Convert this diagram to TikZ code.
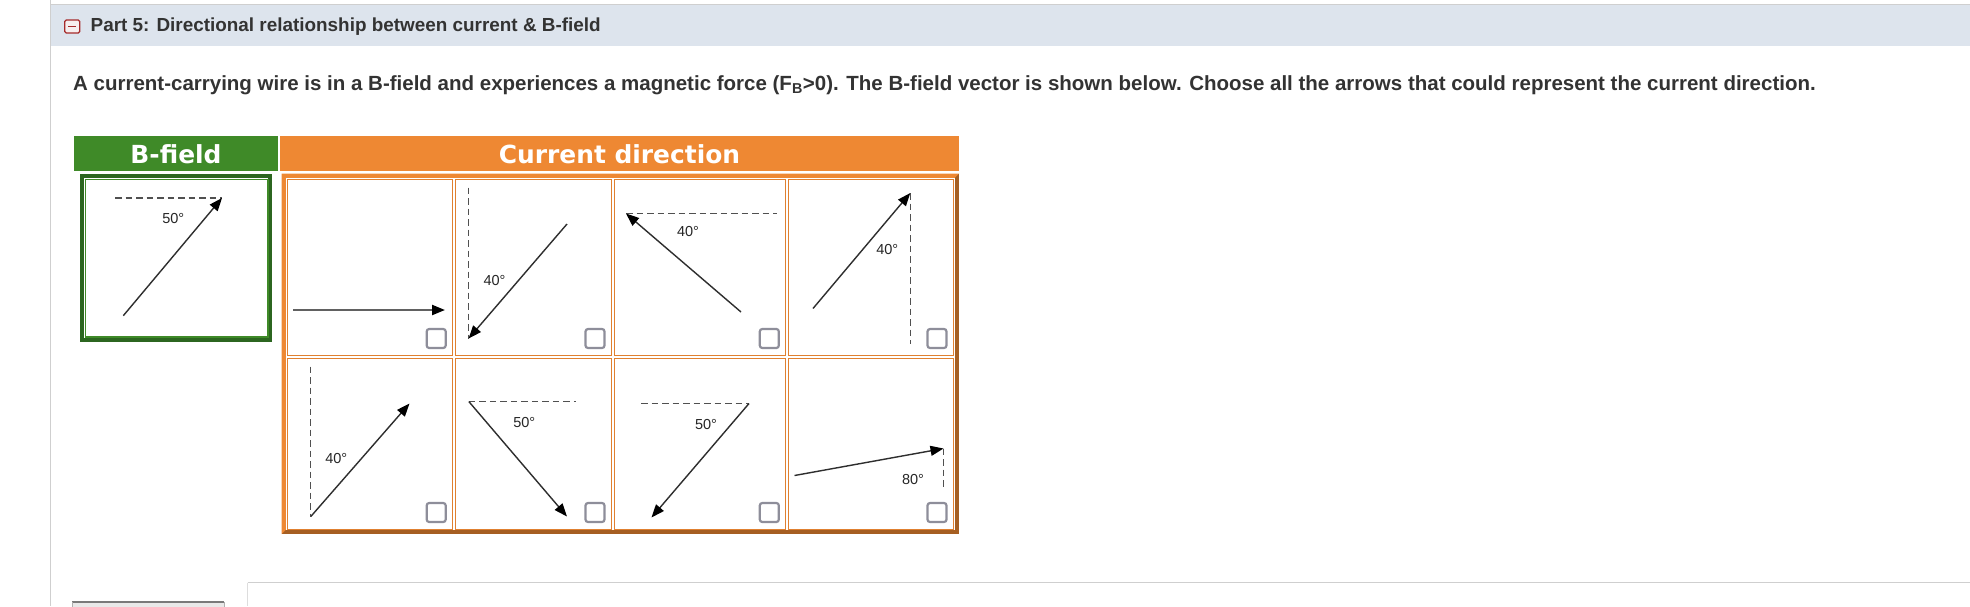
\documentclass[tikz,border=0pt]{standalone}
\usepackage{fontspec}
\setmainfont{Liberation Sans}
\newfontfamily\hdrfont{DejaVu Sans}
\usetikzlibrary{arrows.meta}
\definecolor{hdrband}{HTML}{DDE4ED}
\definecolor{frameln}{HTML}{CFCFCF}
\definecolor{txt}{HTML}{333333}
\definecolor{grn}{HTML}{3F8A28}
\definecolor{dgrn}{HTML}{2C6620}
\definecolor{org}{HTML}{EE8833}
\definecolor{brn}{HTML}{A65F22}
\definecolor{cellb}{HTML}{E08030}
\definecolor{chkc}{HTML}{8E8E9A}
\definecolor{iconred}{HTML}{A52A2A}
\definecolor{iconfill}{HTML}{F6EEEE}
\definecolor{arr}{HTML}{2E2E2E}
\definecolor{dash}{HTML}{505050}
\definecolor{btnfill}{HTML}{E9E9E9}
\definecolor{btnline}{HTML}{7A7A7A}
\tikzset{
  vec/.style={draw=arr, line width=1.4pt, -{Triangle[length=13pt,width=10pt,color=black]}},
  vecbold/.style={draw=black!62, line width=2.2pt, -{Triangle[length=13pt,width=10pt,color=black]}},
  dashln/.style={draw=dash, line width=1.3pt, dash pattern=on 6.5pt off 4pt},
  anglbl/.style={font=\fontsize{14.5}{16}\selectfont, text=black!85, inner sep=0},
  chkbox/.style={draw=chkc, fill=white, line width=2.2pt, rounded corners=2.5pt, minimum size=19pt, inner sep=0},
  cellbox/.style={draw=cellb, line width=1pt},
  hdrtext/.style={font=\hdrfont\bfseries\fontsize{24.9}{28}\selectfont, text=white, inner sep=0, anchor=base}
}
\begin{document}
\begin{tikzpicture}[x=1pt,y=-1pt]
\useasboundingbox (0,0) rectangle (1970,606);
\fill[white] (0,0) rectangle (1970,606);
% page frame
\fill[hdrband] (50.5,4.5) rectangle (1970,45.7);
\draw[frameln, line width=1pt] (50,0) -- (50,606);
\draw[frameln, line width=1pt] (50,4.5) -- (1970,4.5);
% header icon and title
\node[draw=iconred, fill=iconfill, line width=1.2pt, rounded corners=1.5pt, minimum width=15pt, minimum height=13pt, inner sep=0] (ic) at (72.3,26.5) {};
\draw[iconred, line width=1.3pt] ([xshift=-4pt]ic.center) -- ([xshift=4pt]ic.center);
\node[anchor=base west, inner sep=0, text=txt, font=\bfseries\fontsize{18.9}{22}\selectfont] (title) at (90.5,31.5) {Part 5: Directional relationship between current \& B-field};
% question
\node[anchor=base west, inner sep=0, text=txt, font=\bfseries\fontsize{20.5}{24}\selectfont] (quest) at (73,90) {A current-carrying wire is in a B-field and experiences a magnetic force (F\textsubscript{B}>0). The B-field vector is shown below. Choose all the arrows that could represent the current direction.};
% table headers
\fill[grn] (74,136) rectangle (278.3,170.7);
\fill[org] (280,136) rectangle (959,170.7);
\node[hdrtext] (hb) at (176,163.3) {B-field};
\node[hdrtext] (hc) at (619.5,163.3) {Current direction};
% B-field box
\draw[dgrn, line width=4pt] (82,176.3) rectangle (269.7,339.7);
\draw[grn, line width=1.2pt] (85.6,179.6) rectangle (268,337);
% table outer border
\fill[brn] (281.5,173.5) rectangle (959,534);
\fill[org] (281.5,173.5) -- (959,173.5) -- (954.5,178) -- (286,178) -- (286,529.5) -- (281.5,534) -- cycle;
\fill[white] (286,178) rectangle (954.5,529.5);
% cells
\draw[cellbox] (287.5,179.5) rectangle (452.5,355);
\draw[cellbox] (455,179.5) rectangle (611.5,355);
\draw[cellbox] (614.5,179.5) rectangle (785.5,355);
\draw[cellbox] (788,179.5) rectangle (953.5,355);
\draw[cellbox] (287.5,358) rectangle (452.5,529);
\draw[cellbox] (455,358) rectangle (611.5,529);
\draw[cellbox] (614.5,358) rectangle (785.5,529);
\draw[cellbox] (788,358) rectangle (953.5,529);
% checkboxes
\node[chkbox] (k1) at (436.2,338.5) {};
\node[chkbox] (k2) at (595,338.5) {};
\node[chkbox] (k3) at (769.3,338.5) {};
\node[chkbox] (k4) at (937,338.5) {};
\node[chkbox] (k5) at (436.2,512.5) {};
\node[chkbox] (k6) at (595,512.5) {};
\node[chkbox] (k7) at (769.3,512.5) {};
\node[chkbox] (k8) at (937,512.5) {};
% B-field vector
\coordinate (bs) at (123.3,315.7);
\coordinate (be) at (222,198);
\coordinate (bd) at (115,198);
\draw[dashln] (bd) -- (be);
\draw[vec] (bs) -- (be);
\node[anglbl] (lb) at (173.3,219) {50°};
% row 1
\coordinate (a1s) at (293.3,310);
\coordinate (a1e) at (445,310);
\draw[vecbold] (a1s) -- (a1e);
\coordinate (a2s) at (567,224);
\coordinate (a2e) at (468.6,338.5);
\coordinate (d2) at (468.6,187.5);
\draw[dashln] (d2) -- (a2e);
\draw[vec] (a2s) -- (a2e);
\node[anglbl] (l2) at (494.5,280.5) {40°};
\coordinate (a3s) at (741,312);
\coordinate (a3e) at (626,213.5);
\coordinate (d3) at (776.5,213.5);
\draw[dashln] (a3e) -- (d3);
\draw[vec] (a3s) -- (a3e);
\node[anglbl] (l3) at (688,232) {40°};
\coordinate (a4s) at (813,308.5);
\coordinate (a4e) at (910.3,193);
\coordinate (d4) at (910.3,344);
\draw[dashln] (a4e) -- (d4);
\draw[vec] (a4s) -- (a4e);
\node[anglbl] (l4) at (887.3,249.5) {40°};
% row 2
\coordinate (a5s) at (310.8,516.5);
\coordinate (a5e) at (409.5,403.5);
\coordinate (d5) at (310.8,366.5);
\draw[dashln] (d5) -- (a5s);
\draw[vec] (a5s) -- (a5e);
\node[anglbl] (l5) at (336.3,458) {40°};
\coordinate (a6s) at (468.8,401.5);
\coordinate (a6e) at (567,516.5);
\coordinate (d6) at (575.8,401.5);
\draw[dashln] (a6s) -- (d6);
\draw[vec] (a6s) -- (a6e);
\node[anglbl] (l6) at (524.3,422.8) {50°};
\coordinate (a7s) at (749,403.5);
\coordinate (a7e) at (651.5,517.5);
\coordinate (d7) at (641,403.5);
\draw[dashln] (d7) -- (a7s);
\draw[vec] (a7s) -- (a7e);
\node[anglbl] (l7) at (706,424.3) {50°};
\coordinate (a8s) at (794.5,475.5);
\coordinate (a8e) at (943.5,448.5);
\coordinate (d8) at (943.5,490);
\draw[dashln] (a8e) -- (d8);
\draw[vec] (a8s) -- (a8e);
\node[anglbl] (l8) at (913,479.5) {80°};
% bottom page elements
\draw[frameln, line width=1.2pt] (247.5,582.5) -- (1970,582.5);
\draw[frameln!70, line width=1pt] (247.5,582.5) -- (247.5,606);
\fill[btnfill] (72,602) rectangle (224,606.5);
\draw[btnline, line width=1.2pt] (72,602) -- (224,602);
\draw[btnline!60, line width=1pt] (72,602) -- (72,606.5) (224,602) -- (224,606.5);
\end{tikzpicture}
\end{document}
